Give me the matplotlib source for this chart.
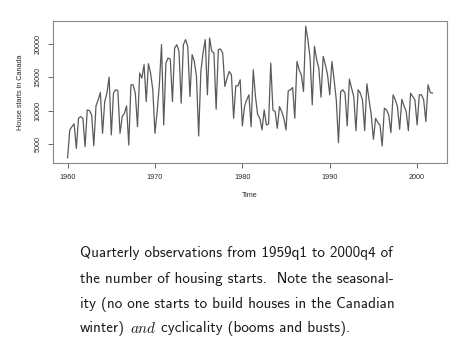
import numpy as np
import matplotlib
matplotlib.use("Agg")
import matplotlib.pyplot as plt

# quarterly housing starts, 1960q1 .. 2001q4
START_YEAR = 1960
starts = [
    2950, 7100, 7600, 8000,        # 1960
    4350, 8850, 9100, 8850,        # 1961
    4600, 10100, 10000, 9350,      # 1962
    4750, 10700, 11600, 12700,     # 1963
    6600, 11350, 12600, 15000,     # 1964
    6350, 12600, 13100, 13000,     # 1965
    6600, 9100, 9600, 10700,       # 1966
    4850, 13850, 13850, 12600,     # 1967
    7600, 15600, 14850, 16850,     # 1968
    11350, 17000, 15600, 13100,    # 1969
    6600, 9850, 13850, 19850,      # 1970
    7850, 17100, 17850, 17700,     # 1971
    11350, 19350, 19850, 18850,    # 1972
    11100, 19850, 20600, 19600,    # 1973
    12100, 18350, 17350, 15100,    # 1974
    6200, 15850, 18600, 20600,     # 1975
    12350, 20850, 18850, 18600,    # 1976
    10200, 19100, 19200, 18600,    # 1977
    13600, 14850, 15850, 15350,    # 1978
    8850, 13700, 13700, 14600,     # 1979
    7700, 10600, 11600, 12350,     # 1980
    7600, 16100, 12100, 9400,      # 1981
    8850, 7100, 10100, 7850,       # 1982
    8000, 17100, 10100, 9850,      # 1983
    7350, 10600, 9850, 8850,       # 1984
    7100, 12950, 13100, 13450,     # 1985
    8850, 17350, 16100, 15350,     # 1986
    12850, 22600, 20600, 17850,    # 1987
    10850, 19600, 17600, 16350,    # 1988
    12000, 18100, 16850, 15350,    # 1989
    12350, 17350, 14600, 11600,    # 1990
    5200, 12850, 13100, 12600,     # 1991
    7700, 14700, 13350, 12100,     # 1992
    7000, 13100, 12600, 11600,     # 1993
    7000, 14000, 11600, 9350,      # 1994
    5700, 8850, 8200, 7850,        # 1995
    4700, 10350, 10100, 9350,      # 1996
    6700, 12350, 11600, 10600,     # 1997
    7200, 11700, 10700, 9850,      # 1998
    7000, 12600, 12100, 11600,     # 1999
    7850, 12350, 12350, 11600,     # 2000
    8350, 13850, 12700, 12600,     # 2001
]
x_ticks = [1960, 1970, 1980, 1990, 2000]
y_ticks = [5000, 10000, 15000, 20000]
caption = [
    "Quarterly observations from 1959q1 to 2000q4 of",
    "the number of housing starts.  Note the seasonal-",
    "ity (no one starts to build houses in the Canadian",
]
last_line = ["winter)", "and", "cyclicality (booms and busts)."]

t = START_YEAR + np.arange(len(starts)) / 4.0

W, H = 474, 343
fig = plt.figure(figsize=(W / 100, H / 100), dpi=100)
ax = fig.add_axes([53 / W, 1 - 163 / H, (447 - 53) / W, (163 - 21) / H])

ax.plot(t, starts, color="#5a5a5a", lw=0.9)
ax.margins(x=0.04, y=0.04)

tick_font = dict(family=["Liberation Sans", "DejaVu Sans"], size=5.2, color="#2a2a2a")
ax.set_xticks(x_ticks)
ax.set_yticks(y_ticks)
ax.set_xticklabels([str(v) for v in x_ticks], **tick_font)
ax.set_yticklabels([str(v) for v in y_ticks], rotation=90, va="center", **tick_font)
ax.tick_params(direction="out", length=3.5, width=0.7, color="#666666", pad=4.5)
for s in ax.spines.values():
    s.set_color("#888888"); s.set_linewidth(0.8)
ax.set_xlabel("Time", labelpad=8, **tick_font)
ax.set_ylabel("House starts in Canada", labelpad=8, **tick_font)

# caption below the chart
cap_font = dict(family=["cmss10", "DejaVu Sans"], size=10.9, color="#1a1a1a")
x0 = 80 / W
ys = [253, 279, 304, 329]
for line, y in zip(caption, ys):
    fig.text(x0, 1 - y / H, line, va="center", ha="left", **cap_font)

# last line mixes the sans caption font with an italic "and"
fig.canvas.draw()
r = fig.canvas.get_renderer()
gap = 5.5 / W   # word space
xc = x0
y4 = 1 - ys[3] / H
for k, part in enumerate(last_line):
    kw = dict(cap_font)
    if k == 1:
        kw["family"] = ["cmmi10", "DejaVu Serif"]
    txt = fig.text(xc, y4, part, va="center", ha="left", **kw)
    xc += txt.get_window_extent(renderer=r).width / W + gap

fig.savefig("out.png", dpi=100)
